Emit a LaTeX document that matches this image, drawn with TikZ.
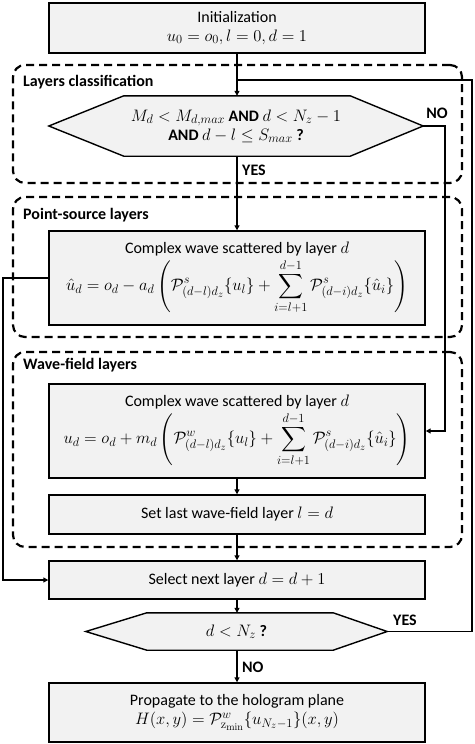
\RequirePackage{fix-cm}
\documentclass[tikz,border=0pt]{standalone}
\usepackage{amsmath}
\usepackage[no-math]{fontspec}
\setmainfont{Carlito}
\DeclareMathSizes{16}{16.6}{12.4}{10}
\usetikzlibrary{arrows.meta,backgrounds,calc}
\definecolor{boxgray}{gray}{0.95}
\begin{document}
\begin{tikzpicture}[x=1pt,y=-1pt,
  font=\fontsize{16}{19}\selectfont,
  box/.style={draw,line width=1.4pt,fill=boxgray,minimum width=376pt,inner sep=0pt,align=center},
  group/.style={draw,line width=2.2pt,dash pattern=on 8pt off 5pt,rounded corners=12pt,minimum width=449pt,inner sep=0pt},
  glabel/.style={font=\fontsize{16}{19}\selectfont\bfseries,anchor=west,inner sep=0pt},
  conn/.style={line width=1.4pt},
  arr/.style={conn,-{Triangle[length=5pt,width=5pt]}},
  hexnode/.style={inner sep=0pt,align=center},
  hexdraw/.style={draw,line width=1.4pt,fill=boxgray},
  lbl/.style={font=\fontsize{16}{19}\selectfont\bfseries,inner sep=0pt}
]
\useasboundingbox (0,0) rectangle (474,744);

% groups
\node[group,minimum height=118pt] (gLayers) at (237.5,124) {};
\node[group,minimum height=140pt] (gPoint) at (237.5,267) {};
\node[group,minimum height=195pt] (gWave) at (237.5,449.5) {};
\node[glabel] (tLayers) at (23,82) {Layers classification};
\node[glabel] (tPoint) at (23,215) {Point-source layers};
\node[glabel] (tWave) at (23,365) {Wave-field layers};

% boxes
\node[box,minimum height=50pt] (init) at (237,28) {Initialization\\ $u_0 = o_0, l = 0, d = 1$};

\node[hexnode,minimum width=374pt,minimum height=60pt] (dec1) at (236,126)
  {$M_d < M_{d,max}$ \textbf{AND} $d < N_z - 1$\\ \textbf{AND} $d - l \le S_{max}$ \textbf{?}};

\node[box,minimum height=94pt] (ps) at (237,278)
  {Complex wave scattered by layer $d$\\[2pt]
   $\displaystyle \hat u_d = o_d - a_d \left( \mathcal{P}^s_{(d-l)d_z}\{u_l\} + \sum_{i=l+1}^{d-1} \mathcal{P}^s_{(d-i)d_z}\{\hat u_i\} \right)$};

\node[box,minimum height=94pt] (wf) at (237,431)
  {Complex wave scattered by layer $d$\\[2pt]
   $\displaystyle u_d = o_d + m_d \left( \mathcal{P}^w_{(d-l)d_z}\{u_l\} + \sum_{i=l+1}^{d-1} \mathcal{P}^s_{(d-i)d_z}\{\hat u_i\} \right)$};

\node[box,minimum height=39pt] (setl) at (237,514.5) {Set last wave-field layer $l = d$};
\node[box,minimum height=38pt] (sel) at (237,580) {Select next layer $d = d + 1$};

\node[hexnode,minimum width=301pt,minimum height=37pt] (dec2) at (236.5,631.5) {$d < N_z$ \textbf{?}};

\node[box,minimum height=59pt] (prop) at (237,712.5)
  {Propagate to the hologram plane\\ $H(x,y) = \mathcal{P}^w_{\mathrm{z}_{\min}}\{u_{N_z-1}\}(x,y)$};

\begin{pgfonlayer}{background}
\draw[hexdraw] (dec1.west) -- ([xshift=75pt]dec1.north west) -- ([xshift=-73pt]dec1.north east)
  -- (dec1.east) -- ([xshift=-73pt]dec1.south east) -- ([xshift=75pt]dec1.south west) -- cycle;
\draw[hexdraw] (dec2.west) -- ([xshift=61pt]dec2.north west) -- ([xshift=-54pt]dec2.north east)
  -- (dec2.east) -- ([xshift=-54pt]dec2.south east) -- ([xshift=61pt]dec2.south west) -- cycle;
\end{pgfonlayer}

% connectors
\coordinate (loopr) at (472,80);
\coordinate (noc) at (445,126);
\coordinate (leftc) at (3,277);

\draw[arr] (init.south) -- (init.south |- dec1.north);
\draw[conn] (dec2.east) -| (loopr) -- (init.south |- loopr);
\draw[arr] (init.south |- dec1.south) -- (init.south |- ps.north);
\draw[arr] (dec1.east) -- (noc) |- (wf.east);
\draw[arr] (wf.south) -- (setl.north);
\draw[arr] (setl.south) -- (sel.north);
\draw[arr] (ps.west) -- (ps.west -| leftc) |- (sel.west);
\draw[arr] (sel.south) -- (sel.south |- dec2.north);
\draw[arr] (sel.south |- dec2.south) -- (prop.north);

% labels
\node[lbl] (no1) at (437,113) {NO};
\node[lbl,anchor=west] (yes1) at (242,170) {YES};
\node[lbl] (yes2) at (405,620) {YES};
\node[lbl,anchor=west] (no2) at (242,667) {NO};
\end{tikzpicture}
\end{document}
